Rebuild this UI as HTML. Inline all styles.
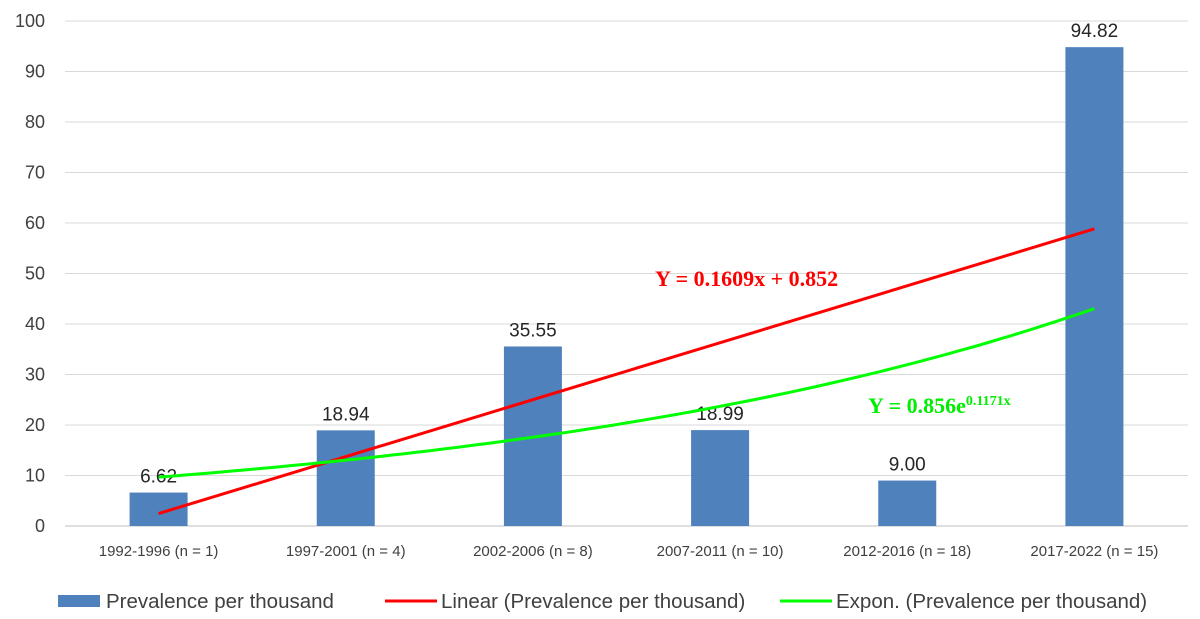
<!DOCTYPE html>
<html><head><meta charset="utf-8"><style>
body{margin:0;background:#fff;}
svg{display:block;}
</style></head><body>
<svg id="chart" width="1200" height="619" xmlns="http://www.w3.org/2000/svg"></svg>
<script>
const categories=["1992-1996 (n = 1)","1997-2001 (n = 4)","2002-2006 (n = 8)","2007-2011 (n = 10)","2012-2016 (n = 18)","2017-2022 (n = 15)"];
const values=[6.62,18.94,35.55,18.99,9.00,94.82];
const valueLabels=["6.62","18.94","35.55","18.99","9.00","94.82"];
const yTicks=[0,10,20,30,40,50,60,70,80,90,100];

const svg=document.getElementById('chart');
const NS='http://www.w3.org/2000/svg';
const x0=65,x1=1188,yBase=526,yTop=21;
const step=(x1-x0)/categories.length;
const xc=i=>x0+step*(i+0.5);
const xf=t=>x0+step*(t-0.5);
const y=v=>yBase-(v/100)*(yBase-yTop);
function el(tag,attrs,text){const e=document.createElementNS(NS,tag);for(const k in attrs)e.setAttribute(k,attrs[k]);if(text!==undefined)e.textContent=text;svg.appendChild(e);return e;}

yTicks.forEach(t=>{
  const g=el('line',{x1:x0,x2:x1,y1:y(t),y2:y(t),stroke:t===0?'#bfbfbf':'#d9d9d9','stroke-width':1});
  
  
  const l=el('text',{x:45,y:y(t)+6,'text-anchor':'end','font-family':'Liberation Sans, sans-serif','font-size':18,fill:'#404040'},String(t));
  
  
});

const bw=58;
values.forEach((v,i)=>{
  const r=el('rect',{x:xc(i)-bw/2,y:y(v),width:bw,height:yBase-y(v),fill:'#4f81bd'});
  
  
  const t=el('text',{x:xc(i),y:y(v)-10,'text-anchor':'middle','font-family':'Liberation Sans, sans-serif','font-size':19,fill:'#262626'},valueLabels[i]);
  
  
  const c=el('text',{x:xc(i),y:556,'text-anchor':'middle','font-family':'Liberation Sans, sans-serif','font-size':15,fill:'#404040'},categories[i]);
  
  
});

const n=values.length;const xs=values.map((_,i)=>i+1);
const mx=xs.reduce((a,b)=>a+b)/n;
function fit(ys){const my=ys.reduce((a,b)=>a+b)/n;let sxy=0,sxx=0;xs.forEach((xv,i)=>{sxy+=(xv-mx)*(ys[i]-my);sxx+=(xv-mx)**2;});const b=sxy/sxx;return [my-b*mx,b];}
const [la,lb]=fit(values);
const [ea,eb]=fit(values.map(v=>Math.log(v)));
const lin=el('line',{x1:xf(1),y1:y(la+lb),x2:xf(n),y2:y(la+lb*n),stroke:'#ff0000','stroke-width':3});


let d='';for(let k=0;k<=100;k++){const t=1+(n-1)*k/100;d+=(k?'L':'M')+xf(t).toFixed(1)+','+y(Math.exp(ea+eb*t)).toFixed(1);}
const ex=el('path',{d:d,fill:'none',stroke:'#00ff00','stroke-width':3});



const eq1=el('text',{x:655,y:286,'font-family':'Liberation Serif, serif','font-size':22,'font-weight':'bold',fill:'#ff0000'},'Y = 0.1609x + 0.852');


const eq2=el('text',{x:868,y:413,'font-family':'Liberation Serif, serif','font-size':22,'font-weight':'bold',fill:'#00ee00'});


eq2.innerHTML='Y = 0.856e<tspan dy="-8" font-size="14">0.1171x</tspan>';

const lg=[{t:'Prevalence per thousand',x:58},{t:'Linear (Prevalence per thousand)',x:385},{t:'Expon. (Prevalence per thousand)',x:780}];
const r=el('rect',{x:58,y:595,width:42,height:12,fill:'#4f81bd'});


const l1=el('line',{x1:385,x2:437,y1:601,y2:601,stroke:'#ff0000','stroke-width':3});


const l2=el('line',{x1:780,x2:832,y1:601,y2:601,stroke:'#00ff00','stroke-width':3});


lg.forEach((o,i)=>{
  const t=el('text',{x:i===0?106:o.x+56,y:608,'font-family':'Liberation Sans, sans-serif','font-size':20.5,fill:'#404040'},o.t);
  
  
});
</script>
</body></html>
